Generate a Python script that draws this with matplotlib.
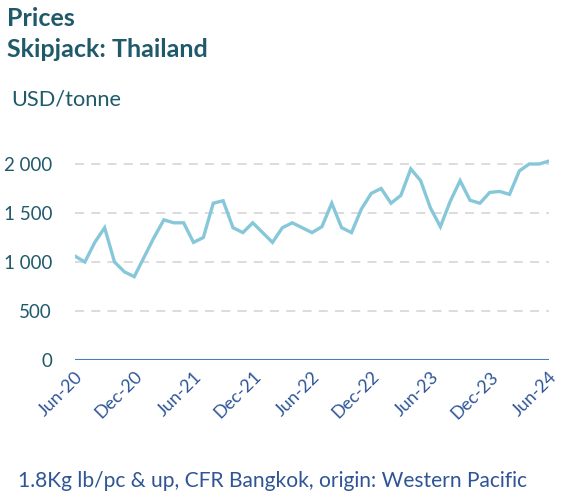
import matplotlib
matplotlib.use("Agg")
import matplotlib.pyplot as plt
import numpy as np

months = ["Jun-20","Jul-20","Aug-20","Sep-20","Oct-20","Nov-20","Dec-20",
          "Jan-21","Feb-21","Mar-21","Apr-21","May-21","Jun-21","Jul-21","Aug-21","Sep-21","Oct-21","Nov-21","Dec-21",
          "Jan-22","Feb-22","Mar-22","Apr-22","May-22","Jun-22","Jul-22","Aug-22","Sep-22","Oct-22","Nov-22","Dec-22",
          "Jan-23","Feb-23","Mar-23","Apr-23","May-23","Jun-23","Jul-23","Aug-23","Sep-23","Oct-23","Nov-23","Dec-23",
          "Jan-24","Feb-24","Mar-24","Apr-24","May-24","Jun-24"]
prices = [1060, 1000, 1200, 1350, 1000, 900, 850,
          1050, 1250, 1430, 1400, 1400, 1200, 1250, 1600, 1625, 1350, 1300, 1400,
          1300, 1200, 1350, 1400, 1350, 1300, 1360, 1600, 1350, 1300, 1540, 1700,
          1750, 1600, 1680, 1950, 1830, 1550, 1360, 1620, 1830, 1630, 1600, 1710,
          1720, 1690, 1930, 2000, 2000, 2030]
tick_labels = ["Jun-20","Dec-20","Jun-21","Dec-21","Jun-22","Dec-22","Jun-23","Dec-23","Jun-24"]
y_ticks = [0, 500, 1000, 1500, 2000]
y_tick_labels = ["0", "500", "1 000", "1 500", "2 000"]

FONT = "Lato"
TITLE_C = "#1F5A6B"
LINE_C = "#86C7DA"
AXIS_C = "#4A7CC4"
XTICK_C = "#2F5597"

W, H = 561, 504
fig = plt.figure(figsize=(W/100, H/100), dpi=100)
plt.rcParams["font.family"] = [FONT, "DejaVu Sans"]

left, right = 75, 549
bottom, top = 360, 360 - 2100*0.098
ax = fig.add_axes([left/W, 1 - bottom/H, (right-left)/W, (bottom-top)/H])

x = np.arange(len(months))
ax.plot(x, prices, color=LINE_C, lw=2.4, solid_joinstyle="miter", zorder=3)
ax.set_xlim(0, len(months)-1)
ax.set_ylim(0, 2100)

for v in y_ticks[1:]:
    ax.axhline(v, color="#D9D9D9", lw=1.3, ls=(0, (5, 4)), zorder=1)
ax.axhline(0, color=AXIS_C, lw=1.5, zorder=2)

for s in ax.spines.values():
    s.set_visible(False)

ax.set_yticks(y_ticks)
ax.set_yticklabels(y_tick_labels, color=TITLE_C, fontsize=13.5)
ax.tick_params(axis="y", length=0, pad=16.5)

tick_pos = [months.index(m) for m in tick_labels]
ax.set_xticks(tick_pos)
ax.set_xticklabels(tick_labels, rotation=45, ha="right", rotation_mode="anchor",
                   color=XTICK_C, fontsize=13)
ax.tick_params(axis="x", length=0, pad=6)

fig.text(7/W, 1 - 26/H, "Prices", fontsize=18, fontweight="bold", color=TITLE_C, va="baseline")
fig.text(7/W, 1 - 57/H, "Skipjack: Thailand", fontsize=18, fontweight="bold", color=TITLE_C, va="baseline")
fig.text(11/W, 1 - 106/H, "USD/tonne", fontsize=15.7, color=TITLE_C, va="baseline")
fig.text(18/W, 1 - 487/H, "1.8Kg lb/pc & up, CFR Bangkok, origin: Western Pacific",
         fontsize=15.1, color=XTICK_C, va="baseline")

fig.savefig("out.png", dpi=100)
